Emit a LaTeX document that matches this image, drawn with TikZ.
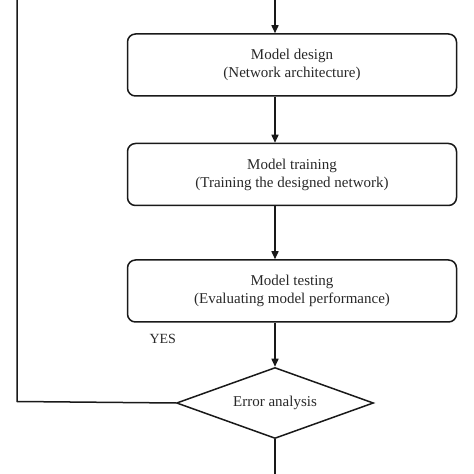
\documentclass[tikz,border=0pt]{standalone}
\usepackage{fontspec}
\setmainfont{Liberation Serif}
\usepackage{xcolor}
\usetikzlibrary{
  shapes.geometric,
  arrows.meta,
  positioning,
  calc
}
\definecolor{flowline}{RGB}{25,25,25}
\definecolor{flowtext}{RGB}{40,40,40}

\begin{document}
\begin{tikzpicture}[
  x=1pt, y=1pt,
  every node/.style={font=\fontsize{15}{18}\selectfont, text=flowtext},
  stagebox/.style={
    rectangle, rounded corners=8pt,
    minimum width=329pt, minimum height=62pt, inner sep=0pt,
    align=center, draw=flowline, line width=1.5pt
  },
  decision/.style={
    diamond, shape aspect=2.77, minimum width=197pt, minimum height=71pt, inner sep=0pt,
    align=center, draw=flowline, line width=1.5pt
  },
  arr/.style={-{Triangle[length=8pt,width=7pt]}, line width=1.5pt, color=flowline},
  flow/.style={line width=1.5pt, color=flowline},
  label/.style={font=\fontsize{14}{16}\selectfont}
]
  \useasboundingbox (0,0) rectangle (474,474);

  % Spine of the flow
  \coordinate (spine) at (275,474);

  % Stages
  \node[stagebox] (design) at (292,409) {Model design\\(Network architecture)};
  \node[stagebox, below=46pt of design] (training) {Model training\\(Training the designed network)};
  \node[stagebox, below=53pt of training] (testing) {Model testing\\(Evaluating model performance)};

  % Decision
  \node[decision, anchor=north] (error) at ($(testing.south -| spine)+(0,-44)$) {Error analysis};

  % Arrows
  \draw[arr] (spine) -- (design.north -| spine);
  \foreach \from/\to in {design/training, training/testing} {
    \draw[arr] (\from.south -| spine) -- (\to.north -| spine);
  }
  \draw[arr] (testing.south -| spine) -- (error.north);
  \draw[flow] (error.south) -- (error.south |- 0,0);

  % Feedback line
  \coordinate (back) at (17,72.5);
  \draw[flow] (error.west) -- (back) -- (back |- spine);

  % Branch label
  \node[label] (yes) at ([xshift=36pt,yshift=-16pt]testing.south west) {YES};
\end{tikzpicture}
\end{document}
